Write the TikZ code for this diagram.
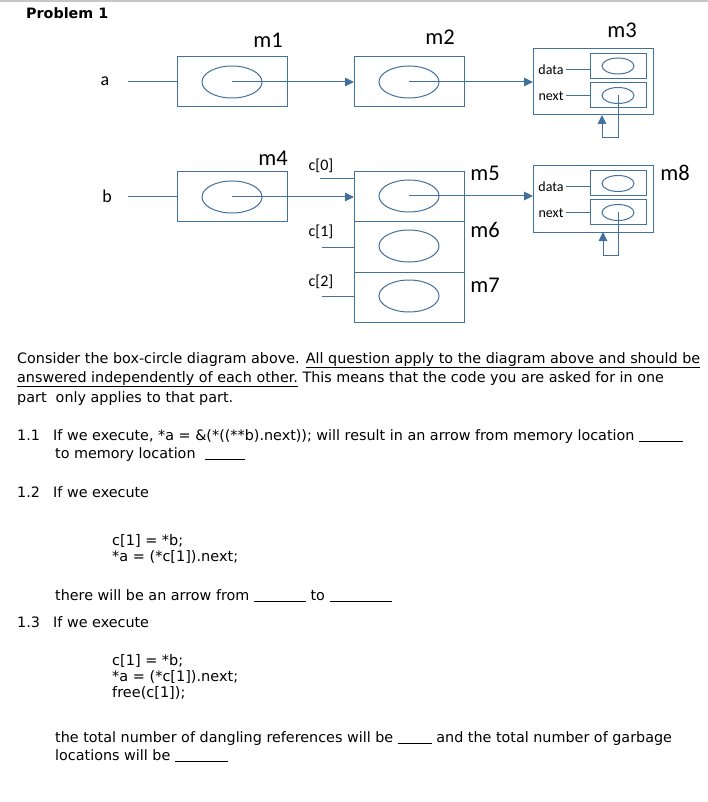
\documentclass[tikz,border=0pt]{standalone}
\usepackage{fontspec}
\setmainfont{DejaVu Sans}
\newfontfamily\calib{Carlito}
\usetikzlibrary{arrows.meta,shapes.geometric}
\definecolor{blu}{RGB}{65,113,156}
\newlength\fitL
\newcommand\fitsz[3]{\settowidth\fitL{\fontsize{10}{12}\selectfont #2}\pgfmathsetmacro#3{10*#1/\fitL}}
\newcommand\blank[1]{\rule[-1.6pt]{#1pt}{0.7pt}}
\begin{document}%
\fitsz{683}{Consider the box-circle diagram above. All question apply to the diagram above and should be}{\bsz}%
\fitsz{126}{*a = (*c[1]).next;}{\csz}%
\fitsz{82}{\bfseries Problem 1}{\psz}%
\begin{tikzpicture}[x=1pt,y=-1pt,
  mem/.style={draw=blu, line width=1pt, minimum width=110pt, minimum height=50pt, inner sep=0pt, outer sep=0pt},
  outerbox/.style={mem, minimum width=120pt, minimum height=66pt},
  inbox/.style={mem, minimum width=56pt, minimum height=25pt},
  ell/.style={draw=blu, line width=1pt, ellipse, minimum width=60pt, minimum height=32pt, inner sep=0pt},
  sell/.style={draw=blu, line width=1pt, ellipse, minimum width=32pt, minimum height=16pt, inner sep=0pt},
  conn/.style={draw=blu, line width=1pt},
  arr/.style={conn, -{Triangle[length=9pt,width=8.5pt]}},
  mlab/.style={font=\calib\fontsize{22.5}{24}\selectfont, inner sep=0pt},
  lab/.style={font=\calib\fontsize{18}{20}\selectfont, inner sep=0pt},
  clab/.style={font=\calib\fontsize{16}{18}\selectfont, inner sep=0pt},
  small/.style={font=\calib\fontsize{14}{16}\selectfont, inner sep=2.5pt},
  body/.style={anchor=base west, inner sep=0pt, font=\fontsize{\bsz}{\bsz}\selectfont},
  codetxt/.style={anchor=base west, inner sep=0pt, font=\fontsize{\csz}{\csz}\selectfont},
  title/.style={anchor=base west, inner sep=0pt, font=\bfseries\fontsize{\psz}{\psz}\selectfont}
]
\fill[white] (0,0) rectangle (708,802);
\useasboundingbox (0,0) rectangle (708,802);
\draw[gray!45, line width=2pt] (0,1) -- (708,1);

\node[title] (ttl) at (26,19) {Problem 1};

% ---- row a ----
\node[mlab] (lm1) at (268,40) {m1};
\node[mem] (m1) at (232,82) {};
\node[ell] (e1) at (m1) {};
\node[mlab] (lm2) at (440,37) {m2};
\node[mem] (m2) at (409,82) {};
\node[ell] (e2) at (m2) {};
\node[mlab] (lm3) at (622,30) {m3};
\node[outerbox] (m3) at (593,82) {};
\node[inbox] (d3) at (618,66) {};
\node[inbox] (n3) at (618,95.5) {};
\node[sell] (d3e) at (d3) {};
\node[sell] (n3e) at (n3) {};
\node[small] (d3l) at (551,70) {data};
\node[small] (n3l) at (551,96) {next};
\node[lab] (la) at (105,81) {a};
\coordinate (as) at (128,82);
\coordinate (r3) at (602,138);

\draw[conn] (as) -- (m1.west);
\draw[arr] (e1.center) -- (m2.west);
\draw[arr] (e2.center) -- (e2.center -| m3.west);
\draw[conn] (d3l.east) -- (d3l.east -| d3.west);
\draw[conn] (n3l.east) -- (n3l.east -| n3.west);
\draw[arr] (n3e.center) |- (r3) -- (r3 |- m3.south);

% ---- row b ----
\node[mlab] (lm4) at (273,158) {m4};
\node[mem] (m4) at (232,197) {};
\node[ell] (e4) at (m4) {};
\node[lab] (lb) at (107,196) {b};
\coordinate (bs) at (128,197);
\node[mem] (m5) at (409,197) {};
\node[mem] (m6) at (409,247) {};
\node[mem] (m7) at (409,297) {};
\node[ell] (e5) at (409,196) {};
\node[ell] (e6) at (409,246) {};
\node[ell] (e7) at (409,296) {};
\node[mlab] (lm5) at (485,173) {m5};
\node[mlab] (lm6) at (485,230) {m6};
\node[mlab] (lm7) at (485,285) {m7};
\node[clab] (lc0) at (321,166) {c[0]};
\node[clab] (lc1) at (321,232) {c[1]};
\node[clab] (lc2) at (321,282) {c[2]};
\coordinate (c0s) at (320,179);
\coordinate (c1s) at (322,247);
\coordinate (c2s) at (322,296);

\node[mlab] (lm8) at (675,173) {m8};
\node[outerbox] (m8) at (593,199) {};
\node[inbox] (d8) at (618,183.5) {};
\node[inbox] (n8) at (618,212.5) {};
\node[sell] (d8e) at (d8) {};
\node[sell] (n8e) at (n8) {};
\node[small] (d8l) at (551,187) {data};
\node[small] (n8l) at (551,213) {next};
\coordinate (r8) at (603,255);

\draw[conn] (bs) -- (m4.west);
\draw[arr] (e4.center) -- (m5.west);
\draw[arr] (e5.center) -- (e5.center -| m8.west);
\draw[conn] (c0s) -- (c0s -| m5.west);
\draw[conn] (c1s) -- (c1s -| m6.west);
\draw[conn] (c2s) -- (c2s -| m7.west);
\draw[conn] (d8l.east) -- (d8l.east -| d8.west);
\draw[conn] (n8l.east) -- (n8l.east -| n8.west);
\draw[arr] (n8e.center) |- (r8) -- (r8 |- m8.south);

% ---- text ----
\node[body] (p1) at (17,363) {Consider the box-circle diagram above. \underline{All question apply to the diagram above and should be}};
\node[body] (p2) at (17,382) {\underline{answered independently of each other.} This means that the code you are asked for in one};
\node[body] (p3) at (17,402) {part\ \ only applies to that part.};

\node[body] (q11n) at (17,440) {1.1};
\node[body] (q11) at (53,440) {If we execute, *a = \&(*((**b).next)); will result in an arrow from memory location \blank{44}};
\node[body] (q11b) at (55,458) {to memory location\ \ \blank{40}};

\node[body] (q12n) at (17,497) {1.2};
\node[body] (q12) at (53,497) {If we execute};
\node[codetxt] (k1) at (112,545) {c[1] = *b;};
\node[codetxt] (k2) at (112,561) {*a = (*c[1]).next;};
\node[body] (q12b) at (55,600) {there will be an arrow from \blank{52} to \blank{62}};

\node[body] (q13n) at (17,627) {1.3};
\node[body] (q13) at (53,627) {If we execute};
\node[codetxt] (k3) at (112,665) {c[1] = *b;};
\node[codetxt] (k4) at (112,681) {*a = (*c[1]).next;};
\node[codetxt] (k5) at (112,697) {free(c[1]);};
\node[body] (q13b) at (55,742) {the total number of dangling references will be \blank{34} and the total number of garbage};
\node[body] (q13c) at (55,760) {locations will be \blank{53}};
\end{tikzpicture}
\end{document}
